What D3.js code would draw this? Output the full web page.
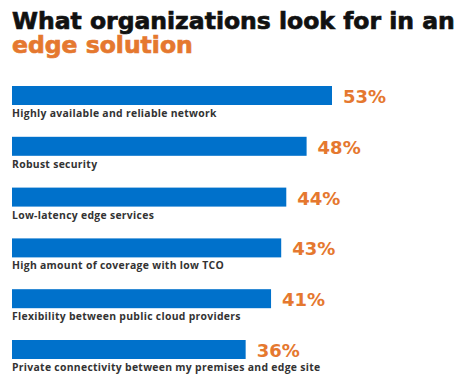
<!DOCTYPE html>
<html><head><meta charset="utf-8">
<script src="https://cdn.jsdelivr.net/npm/d3@7"></script>
<style>html,body{margin:0;padding:0;background:#fff;}</style>
</head><body>
<svg id="chart" width="474" height="389"></svg>
<script>
const titleLine1 = "What organizations look for in an";
const titleLine2 = "edge solution";
const categories = [
  "Highly available and reliable network",
  "Robust security",
  "Low-latency edge services",
  "High amount of coverage with low TCO",
  "Flexibility between public cloud providers",
  "Private connectivity between my premises and edge site"
];
const values = [53, 48, 44, 43, 41, 36];
const valueLabels = ["53%", "48%", "44%", "43%", "41%", "36%"];

const svg = d3.select("#chart");
const blue = "#0071CB", orange = "#E5782F", dark = "#333333";

svg.append("text").attr("x", 12).attr("y", 29)
  .attr("font-family", "DejaVu Sans").attr("font-weight", 900)
  .attr("font-size", 23.5).attr("fill", "#111")
  .attr("stroke", "#111").attr("stroke-width", 0.7)
  .text(titleLine1);
svg.append("text").attr("x", 12).attr("y", 53)
  .attr("font-family", "DejaVu Sans").attr("font-weight", 900)
  .attr("font-size", 23.5).attr("fill", orange)
  .attr("stroke", orange).attr("stroke-width", 0.7)
  .text(titleLine2);

const x = d3.scaleLinear().domain([-10, 53]).range([12, 332]);
const y = d3.scaleBand().domain(categories).range([86, 359]).paddingInner(0.626).paddingOuter(0);

const g = svg.append("g");
const rows = g.selectAll("g.row").data(categories).join("g").attr("class", "row");
rows.append("rect")
  .attr("x", x(-10))
  .attr("y", d => y(d))
  .attr("width", (d, i) => x(values[i]) - x(-10))
  .attr("height", y.bandwidth())
  .attr("fill", blue);
rows.append("text")
  .attr("x", (d, i) => x(values[i]) + 11)
  .attr("y", d => y(d) + 17)
  .attr("font-family", "DejaVu Sans").attr("font-weight", "bold")
  .attr("font-size", 18).attr("fill", orange)
  .text((d, i) => valueLabels[i]);
rows.append("text")
  .attr("x", 12)
  .attr("y", d => y(d) + 31)
  .attr("font-family", "Open Sans").attr("font-weight", 700)
  .attr("font-size", 10.4).attr("fill", dark)
  .attr("letter-spacing", 0.3)
  .text(d => d);
</script>
</body></html>
